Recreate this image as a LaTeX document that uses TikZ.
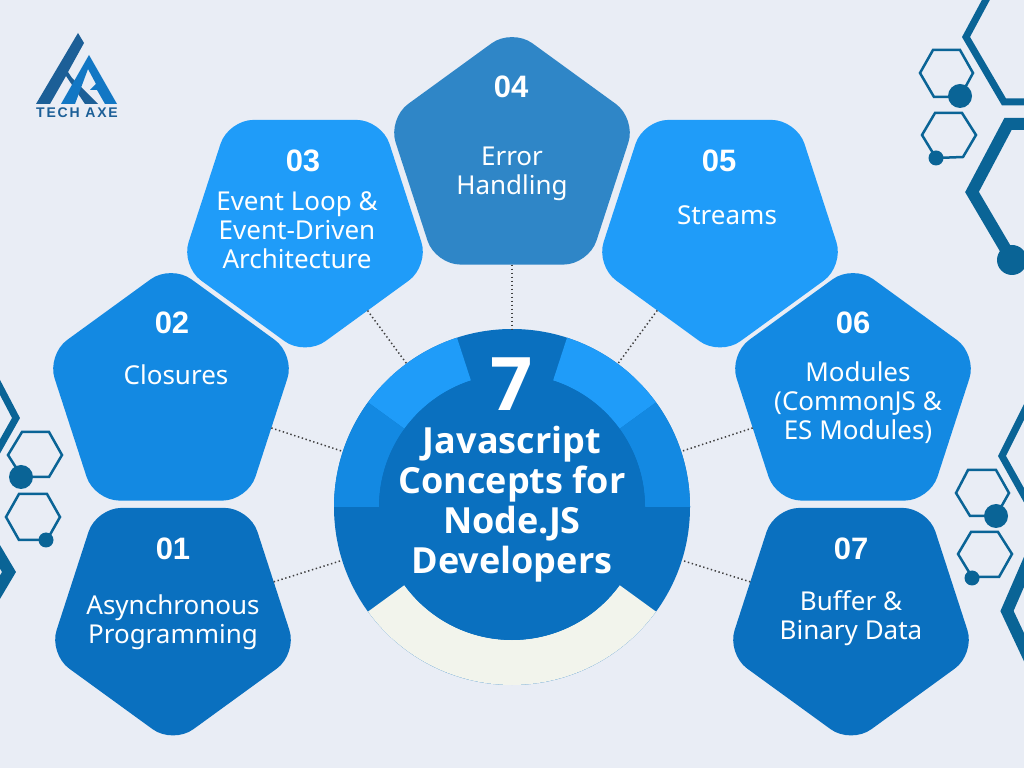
\documentclass[tikz,border=0pt]{standalone}
\usepackage{fontspec}
\setmainfont{Noto Sans}
\newfontfamily\numfont{Liberation Sans Bold}
\newfontfamily\titlefont{Open Sans Bold}
\usetikzlibrary{shapes.geometric}
\definecolor{pagebg}{HTML}{E9EDF5}
\definecolor{darkblue}{HTML}{0A70BF}
\definecolor{midblue}{HTML}{1389E2}
\definecolor{lightblue}{HTML}{1F9CF9}
\definecolor{steelblue}{HTML}{2F86C7}
\definecolor{creamy}{HTML}{F2F4EC}
\definecolor{hexblue}{HTML}{0A6496}
\definecolor{logodark}{HTML}{1C5F97}
\definecolor{logolight}{HTML}{1277C4}
\tikzset{
  pentagon/.style={regular polygon, regular polygon sides=5, minimum size=261pt,
    inner sep=0pt, outer sep=0pt, rounded corners=25pt},
  pentup/.style={pentagon},
  pentdown/.style={pentagon, shape border rotate=180},
  numlabel/.style={text=white, font=\numfont\fontsize{31}{31}\selectfont},
  toplabel/.style={text=white, align=center, font=\fontsize{26}{29}\selectfont},
  titlelabel/.style={text=white, align=center, font=\titlefont\fontsize{36}{40}\selectfont},
  connector/.style={draw=black!75, line width=1.5pt, dash pattern=on 1.4pt off 2.6pt},
  hexline/.style={draw=hexblue, line width=2.5pt},
  thinarm/.style={draw=hexblue, line width=7pt, miter limit=10},
  thickarm/.style={draw=hexblue, line width=12pt, miter limit=10},
}
\begin{document}
\begin{tikzpicture}[x=1pt,y=1pt]
    \useasboundingbox (0,0) rectangle (1024,768);
    \clip (0,0) rectangle (1024,768);
    \fill[pagebg] (0,0) rectangle (1024,768);

    % Hexagons on the right, upper group
    \draw[thinarm] (988,772) -- (966,731) -- (1004,666) -- (1030,666);
    \draw[thickarm] (1030,644) -- (1008,644) -- (972,576) -- (1012,508);
    \fill[hexblue] (1012,508) circle (15);
    \draw[hexline] (933,718) -- (960,718) -- (973,695) -- (960,671) -- (934,671) -- (920,695) -- cycle;
    \fill[hexblue] (960,672) circle (12);
    \draw[hexline] (935,655) -- (962,655) -- (976,633) -- (963,611) -- (936,610) -- (922,633) -- cycle;
    \fill[hexblue] (936,610) circle (7.5);

    % Hexagons on the right, lower group
    \draw[thinarm] (1030,368) -- (1002,312) -- (1030,262);
    \draw[thickarm] (1030,210) -- (1007,157) -- (1030,108);
    \draw[hexline] (968,298) -- (996,298) -- (1009,275) -- (996,252) -- (970,252) -- (956,275) -- cycle;
    \fill[hexblue] (996,252) circle (12);
    \draw[hexline] (971,236) -- (998,236) -- (1012,214) -- (999,191) -- (972,191) -- (958,214) -- cycle;
    \fill[hexblue] (972,190) circle (7.5);

    % Hexagons on the left
    \draw[thinarm] (-6,392) -- (16,350) -- (-6,311);
    \draw[thickarm] (-10,228) -- (9,196) -- (-10,164);
    \draw[hexline] (22,336) -- (49,336) -- (62,313) -- (49,291) -- (22,291) -- (8,313) -- cycle;
    \fill[hexblue] (21,291) circle (12);
    \draw[hexline] (19,274) -- (47,274) -- (60,251) -- (47,228) -- (19,228) -- (6,251) -- cycle;
    \fill[hexblue] (46,228) circle (7.5);

    % Logo
    \fill[logodark] (36,664) -- (78,735) -- (84,725) -- (68,696) -- (72,690) -- (98,664) -- (85,664) -- (66,692) -- (50,664) -- cycle;
    \fill[logolight] (61,664) -- (89,713) -- (117,664) -- (105,664) -- (97,678) -- (90,678) -- (96,684) -- (88,699) -- (75,664) -- cycle;
    \node[text=logodark, font=\numfont\fontsize{14}{14}\addfontfeature{LetterSpace=13}\selectfont] (logotext) at (77,655) {TECH AXE};

    % Pentagons
    \node[pentdown, fill=darkblue] (concept1) at (173,154.5) {};
    \node[pentup, fill=midblue] (concept2) at (171,373) {};
    \node[pentdown, fill=lightblue] (concept3) at (305,542.5) {};
    \node[pentup, fill=steelblue] (concept4) at (512,609) {};
    \node[pentdown, fill=lightblue] (concept5) at (720,542.5) {};
    \node[pentup, fill=midblue] (concept6) at (853,373) {};
    \node[pentdown, fill=darkblue] (concept7) at (851,154.5) {};

    % Central disc
    \node[circle, fill=darkblue, minimum size=356pt, inner sep=0pt, outer sep=0pt] (hub) at (512,261) {};

    % Dotted connectors
    \draw[connector] (concept1) -- (hub);
    \draw[connector] (concept2) -- (hub);
    \draw[connector] (concept3) -- (hub);
    \draw[connector] (concept4) -- (hub);
    \draw[connector] (concept5) -- (hub);
    \draw[connector] (concept6) -- (hub);
    \draw[connector] (concept7) -- (hub);

    % Ring sectors
    \begin{scope}[shift={(512,261)}]
        \fill[lightblue] (108:178) arc[start angle=108, end angle=144, radius=178] -- (144:133) arc[start angle=144, end angle=108, radius=133] -- cycle;
        \fill[midblue] (144:178) arc[start angle=144, end angle=180, radius=178] -- (180:133) arc[start angle=180, end angle=144, radius=133] -- cycle;
        \fill[lightblue] (36:178) arc[start angle=36, end angle=72, radius=178] -- (72:133) arc[start angle=72, end angle=36, radius=133] -- cycle;
        \fill[midblue] (0:178) arc[start angle=0, end angle=36, radius=178] -- (36:133) arc[start angle=36, end angle=0, radius=133] -- cycle;
        \fill[creamy] (216:178) arc[start angle=216, end angle=324, radius=178] -- (324:133) arc[start angle=324, end angle=216, radius=133] -- cycle;
    \end{scope}
    \node[circle, fill=darkblue, minimum size=266pt, inner sep=0pt, outer sep=0pt] (hubcore) at (hub) {};

    % Title
    \node[text=white, font=\titlefont\fontsize{74}{74}\selectfont, inner sep=0pt] (seven) at (512,384) {7};
    \node[titlelabel, inner sep=0pt] (title) at (512,264) {Javascript\\Concepts for\\Node.JS\\Developers};

    % Numbers
    \node[numlabel] (num1) at (173,219) {01};
    \node[numlabel] (num2) at (172,445) {02};
    \node[numlabel] (num3) at (303,607) {03};
    \node[numlabel] (num4) at (511,681) {04};
    \node[numlabel] (num5) at (719,607) {05};
    \node[numlabel] (num6) at (853,445) {06};
    \node[numlabel] (num7) at (851,219) {07};

    % Labels inside the pentagons
    \node[toplabel] (text1) at (173,146) {Asynchronous\\Programming};
    \node[toplabel] (text2) at (176,393) {Closures};
    \node[toplabel] (text3) at (297,537.5) {Event Loop \&\\Event-Driven\\Architecture};
    \node[toplabel] (text4) at (512,594) {Error\\Handling};
    \node[toplabel] (text5) at (727,553) {Streams};
    \node[toplabel] (text6) at (858,365.5) {Modules\\(CommonJS \&\\ES Modules)};
    \node[toplabel] (text7) at (851,150) {Buffer \&\\Binary Data};
\end{tikzpicture}
\end{document}
